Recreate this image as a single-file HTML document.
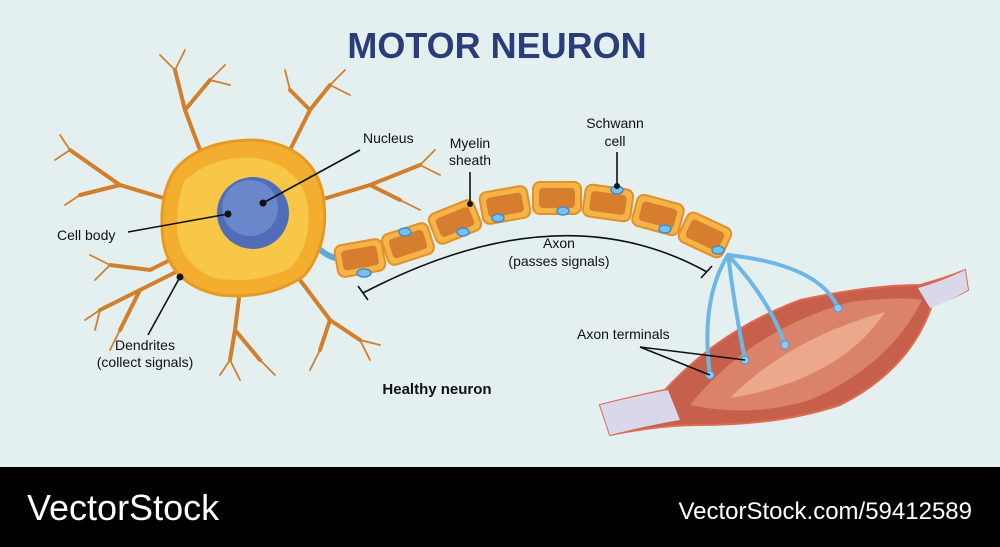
<!DOCTYPE html>
<html><head><style>
html,body{margin:0;padding:0;width:1000px;height:547px;overflow:hidden;background:#e3f0ef;font-family:"Liberation Sans",Arial,sans-serif}
svg{display:block}
</style></head><body>
<svg width="1000" height="547" viewBox="0 0 1000 547">
<rect width="1000" height="467" fill="#e3f0ef"/>
<rect y="467" width="1000" height="80" fill="#000"/>
<text x="497" y="58" text-anchor="middle" font-size="36" font-weight="bold" fill="#2b3d78">MOTOR NEURON</text>

<!-- dendrites -->
<g stroke="#d27f2c" fill="none" stroke-linecap="round">
 <g stroke-width="4">
  <path d="M200 150 L185 110 L175 70"/><path d="M185 110 L210 80"/>
  <path d="M290 150 L310 110 L330 85"/><path d="M310 110 L290 90"/>
  <path d="M170 200 L120 185 L70 150"/><path d="M120 185 L80 195"/>
  <path d="M320 200 L370 185 L420 165"/><path d="M370 185 L400 200"/>
  <path d="M180 270 L140 290 L100 310"/><path d="M140 290 L120 330"/>
  <path d="M240 290 L235 330 L230 360"/><path d="M235 330 L260 360"/>
  <path d="M300 280 L330 320 L360 340"/><path d="M330 320 L320 350"/>
  <path d="M180 255 L150 270 L110 265"/>
 </g>
 <g stroke-width="1.8">
  <path d="M175 70 L160 55"/><path d="M175 70 L185 50"/><path d="M210 80 L225 65"/><path d="M210 80 L230 85"/>
  <path d="M330 85 L345 70"/><path d="M330 85 L350 95"/><path d="M290 90 L285 70"/>
  <path d="M70 150 L60 135"/><path d="M70 150 L55 160"/><path d="M80 195 L65 205"/>
  <path d="M420 165 L435 150"/><path d="M420 165 L440 175"/><path d="M400 200 L420 210"/>
  <path d="M100 310 L85 320"/><path d="M100 310 L95 330"/><path d="M120 330 L110 350"/>
  <path d="M230 360 L220 375"/><path d="M230 360 L240 380"/><path d="M260 360 L275 375"/>
  <path d="M360 340 L380 345"/><path d="M360 340 L370 360"/><path d="M320 350 L310 370"/>
  <path d="M110 265 L90 255"/><path d="M110 265 L95 280"/>
 </g>
</g>
<!-- axon line -->
<path d="M310 240 Q330 262 345 258" stroke="#5fa8dc" stroke-width="6" fill="none"/>
<!-- cell body -->
<path d="M175 170 Q200 140 255 140 Q310 145 322 190 Q332 240 305 275 Q270 300 220 295 Q170 285 163 240 Q158 195 175 170Z" fill="#f4ae2f" stroke="#e79a23" stroke-width="3"/>
<path d="M185 180 Q215 155 255 158 Q300 165 308 205 Q312 245 290 268 Q255 285 215 278 Q180 265 177 230 Q176 200 185 180Z" fill="#f8c748"/>
<circle cx="253" cy="213" r="36" fill="#4f6db8"/>
<circle cx="250" cy="208" r="28" fill="#6a87cc"/>
<!-- myelin segments -->
<g stroke="#e2902a" stroke-width="2">
 <g transform="translate(360,258) rotate(-10)"><rect x="-24" y="-16" width="48" height="32" rx="7" fill="#f5b445"/><rect x="-18" y="-10" width="36" height="20" rx="4" fill="#d77e2e" stroke="none"/></g>
 <g transform="translate(408,244) rotate(-18)"><rect x="-24" y="-16" width="48" height="32" rx="7" fill="#f5b445"/><rect x="-18" y="-10" width="36" height="20" rx="4" fill="#d77e2e" stroke="none"/></g>
 <g transform="translate(455,222) rotate(-22)"><rect x="-24" y="-16" width="48" height="32" rx="7" fill="#f5b445"/><rect x="-18" y="-10" width="36" height="20" rx="4" fill="#d77e2e" stroke="none"/></g>
 <g transform="translate(505,205) rotate(-10)"><rect x="-24" y="-16" width="48" height="32" rx="7" fill="#f5b445"/><rect x="-18" y="-10" width="36" height="20" rx="4" fill="#d77e2e" stroke="none"/></g>
 <g transform="translate(557,198) rotate(0)"><rect x="-24" y="-16" width="48" height="32" rx="7" fill="#f5b445"/><rect x="-18" y="-10" width="36" height="20" rx="4" fill="#d77e2e" stroke="none"/></g>
 <g transform="translate(608,203) rotate(8)"><rect x="-24" y="-16" width="48" height="32" rx="7" fill="#f5b445"/><rect x="-18" y="-10" width="36" height="20" rx="4" fill="#d77e2e" stroke="none"/></g>
 <g transform="translate(658,215) rotate(15)"><rect x="-24" y="-16" width="48" height="32" rx="7" fill="#f5b445"/><rect x="-18" y="-10" width="36" height="20" rx="4" fill="#d77e2e" stroke="none"/></g>
 <g transform="translate(705,235) rotate(25)"><rect x="-24" y="-16" width="48" height="32" rx="7" fill="#f5b445"/><rect x="-18" y="-10" width="36" height="20" rx="4" fill="#d77e2e" stroke="none"/></g>
</g>
<g fill="#7cc0ea" stroke="#3a8fcf" stroke-width="1.5">
 <ellipse cx="364" cy="273" rx="7" ry="4"/><ellipse cx="405" cy="232" rx="6" ry="4"/><ellipse cx="463" cy="232" rx="6" ry="4"/>
 <ellipse cx="498" cy="218" rx="6" ry="4"/><ellipse cx="563" cy="211" rx="6" ry="4"/><ellipse cx="617" cy="190" rx="6" ry="4"/>
 <ellipse cx="665" cy="229" rx="6" ry="4"/><ellipse cx="718" cy="250" rx="6" ry="4"/>
</g>
<!-- muscle -->
<path d="M600 405 Q640 395 665 390 Q720 330 800 300 Q870 285 920 285 Q945 278 965 270 L968 290 Q950 300 932 305 Q910 370 840 405 Q780 425 700 425 Q660 425 610 435 Z" fill="#c6604b" stroke="#e06a56" stroke-width="2"/>
<path d="M690 405 Q750 330 850 302 Q900 296 922 300 Q890 365 810 400 Q750 418 690 405Z" fill="#dd8a70" opacity="0.85"/>
<path d="M730 398 Q790 338 885 312 Q840 380 730 398Z" fill="#f0b49a" opacity="0.75"/>
<path d="M600 405 Q640 395 668 390 L680 420 Q650 425 610 435 Z" fill="#d8d8ea"/>
<path d="M918 288 Q945 280 965 270 L968 290 Q948 302 930 308 Z" fill="#d8d8ea"/>
<!-- terminals -->
<g stroke="#6db6e6" stroke-width="4" fill="none" stroke-linecap="round">
 <path d="M728 255 Q700 300 710 375"/><path d="M728 255 Q735 310 745 360"/><path d="M728 255 Q770 300 785 345"/><path d="M728 255 Q820 265 838 308"/>
</g>
<g fill="#8ccbf0" stroke="#4a9ad5"><circle cx="710" cy="375" r="4"/><circle cx="745" cy="360" r="4"/><circle cx="785" cy="345" r="4"/><circle cx="838" cy="308" r="4"/></g>
<!-- labels -->
<g fill="#111" font-size="14">
 <text x="363" y="143">Nucleus</text>
 <text x="57" y="240">Cell body</text>
 <text x="470" y="148" text-anchor="middle">Myelin</text><text x="470" y="165" text-anchor="middle">sheath</text>
 <text x="615" y="128" text-anchor="middle">Schwann</text><text x="615" y="146" text-anchor="middle">cell</text>
 <text x="559" y="248" text-anchor="middle">Axon</text><text x="559" y="266" text-anchor="middle">(passes signals)</text>
 <text x="145" y="350" text-anchor="middle">Dendrites</text><text x="145" y="367" text-anchor="middle">(collect signals)</text>
 <text x="577" y="339">Axon terminals</text>
 <text x="437" y="394" text-anchor="middle" font-weight="bold" font-size="15">Healthy neuron</text>
</g>
<g stroke="#111" stroke-width="1.6" fill="none">
 <path d="M360 150 L263 203"/><path d="M128 232 L228 214"/>
 <path d="M470 172 L470 204"/><path d="M617 152 L617 186"/>
 <path d="M148 335 L180 277"/>
 <path d="M363 293 Q560 190 707 272"/><path d="M358 286 L368 300"/><path d="M701 278 L712 266"/>
 <path d="M640 347 L710 375"/><path d="M640 347 L745 360"/>
</g>
<g fill="#111"><circle cx="263" cy="203" r="3.5"/><circle cx="228" cy="214" r="3.5"/><circle cx="470" cy="204" r="3"/><circle cx="617" cy="186" r="3"/><circle cx="180" cy="277" r="3.5"/></g>
<text x="27" y="520" fill="#fff" font-size="36">VectorStock</text>
<text x="972" y="519" text-anchor="end" fill="#fff" font-size="24">VectorStock.com/59412589</text>
</svg>
</body></html>
